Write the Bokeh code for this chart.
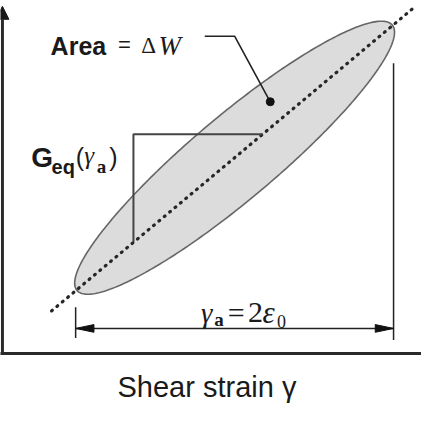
import numpy as np
from bokeh.plotting import figure
from bokeh.models import Range1d, Arrow, NormalHead, FixedTicker
from bokeh.core.properties import value
from bokeh.embed import file_html
from bokeh.resources import INLINE

# ---- data (chart units, y upwards) ----
loop_center = [243.0, 203.0]          # centre of hysteresis loop
loop_amp = [166.0, 130.0, 56.0]       # strain amplitude, in-phase stress, quadrature stress
secant_slope = 0.836                  # G_eq (slope of the secant through the tips)
secant_x = [53.0, 430.0]              # extent of dotted secant line
slope_x = [138.0, 272.0]              # slope triangle corners on secant
area_leader_x = [212.0, 243.0, 280.0]
area_leader_y = [329.0, 329.0, 261.0]
dim_x = [78.0, 408.0]                 # gamma_a dimension (loop tips)
dim_y = 26.0
dim_ext_left = [48.0, 16.0]
dim_ext_right = [301.0, 14.0]

p = figure(width=421, height=421, output_backend="svg", toolbar_location=None,
           x_range=Range1d(0, 437), y_range=Range1d(0, 366),
           min_border_left=0, min_border_right=0, min_border_top=0, min_border_bottom=68,
           y_axis_location=None)
p.grid.visible = False
p.outline_line_color = None
p.background_fill_color = "white"

ax = p.xaxis[0]
ax.ticker = FixedTicker(ticks=[])
ax.axis_line_width = 3
ax.axis_line_color = "#2a2a2a"
ax.major_tick_out = 0
ax.major_tick_in = 0
ax.minor_tick_out = 0
ax.minor_tick_in = 0
ax.major_label_standoff = 0
ax.major_label_text_font_size = "0px"
ax.axis_label = "Shear strain  γ"
ax.axis_label_text_font = "Liberation Sans"
ax.axis_label_text_font_style = "normal"
ax.axis_label_text_font_size = "29px"
ax.axis_label_text_color = "#1a1a1a"
ax.axis_label_standoff = 17

# left (stress) axis line with arrow head
p.add_layout(Arrow(end=NormalHead(size=13, fill_color="#1a1a1a", line_color="#1a1a1a"),
                   x_start=2, y_start=0, x_end=2, y_end=360,
                   line_width=3, line_color="#2a2a2a"))

# hysteresis loop
t = np.linspace(0, 2 * np.pi, 300)
lx = loop_center[0] + loop_amp[0] * np.cos(t)
ly = loop_center[1] + loop_amp[1] * np.cos(t) + loop_amp[2] * np.sin(t)
p.patch(lx, ly, fill_color="#dcdcdc", line_color="#666666", line_width=1.6)

# secant (dotted)
def sec(x):
    return loop_center[1] + secant_slope * (np.asarray(x) - loop_center[0])

p.line(secant_x, sec(secant_x), line_color="#262626", line_width=3.2,
       line_dash="1 6", line_cap="round")

# slope triangle
p.line([slope_x[0], slope_x[0], slope_x[1]],
       [sec(slope_x[0]), sec(slope_x[1]), sec(slope_x[1])],
       line_color="#444444", line_width=2)

# area leader and dot
p.line(area_leader_x, area_leader_y, line_color="#222222", line_width=1.6)
p.scatter([area_leader_x[-1]], [area_leader_y[-1]], size=8, color="#111111")

# dimension lines
p.segment(x0=[dim_x[0], dim_x[1]], y0=[dim_ext_left[0], dim_ext_right[0]],
          x1=[dim_x[0], dim_x[1]], y1=[dim_ext_left[1], dim_ext_right[1]],
          line_color="#222222", line_width=1.5)
p.line(dim_x, [dim_y, dim_y], line_color="#222222", line_width=1.5)
ah_len, ah_half = 19, 4
p.patches([[dim_x[0], dim_x[0] + ah_len, dim_x[0] + ah_len],
           [dim_x[1], dim_x[1] - ah_len, dim_x[1] - ah_len]],
          [[dim_y, dim_y + ah_half, dim_y - ah_half],
           [dim_y, dim_y + ah_half, dim_y - ah_half]],
          color="#111111")

def txt(x, y, s, font, size, style="normal"):
    p.text(x=[x], y=[y], text=[s], text_font=value(font), text_font_size=value(size),
           text_font_style=style, text_color="#1a1a1a",
           text_baseline="alphabetic", text_align="left")

# Area = ΔW
txt(52, 319, "Area", "Liberation Sans", "25px", "bold")
txt(122, 320, "=", "Liberation Sans", "22px")
txt(146, 319, "Δ", "Liberation Serif", "23px")
txt(164, 319, "W", "Liberation Serif", "27px", "italic")

# G_eq(γ_a)
txt(32, 203, "G", "Liberation Sans", "28px", "bold")
txt(53, 193, "eq", "Liberation Sans", "20px", "bold")
txt(78, 204, "(", "Liberation Sans", "25px")
txt(87, 205, "γ", "Liberation Serif", "25px", "italic")
txt(100, 194, "a", "Liberation Serif", "19px", "bold")
txt(113, 204, ")", "Liberation Sans", "25px")

# γ_a = 2ε_0
txt(208, 42, "γ", "Liberation Serif", "29px", "italic")
txt(222, 35, "a", "Liberation Serif", "19px", "bold")
txt(236, 43, "=", "Liberation Serif", "30px")
txt(257, 43, "2", "Liberation Serif", "30px")
txt(272, 43, "ε", "Liberation Serif", "31px", "italic")
txt(287, 33, "0", "Liberation Serif", "18px")

open("out.html", "w").write(file_html(p, INLINE))
